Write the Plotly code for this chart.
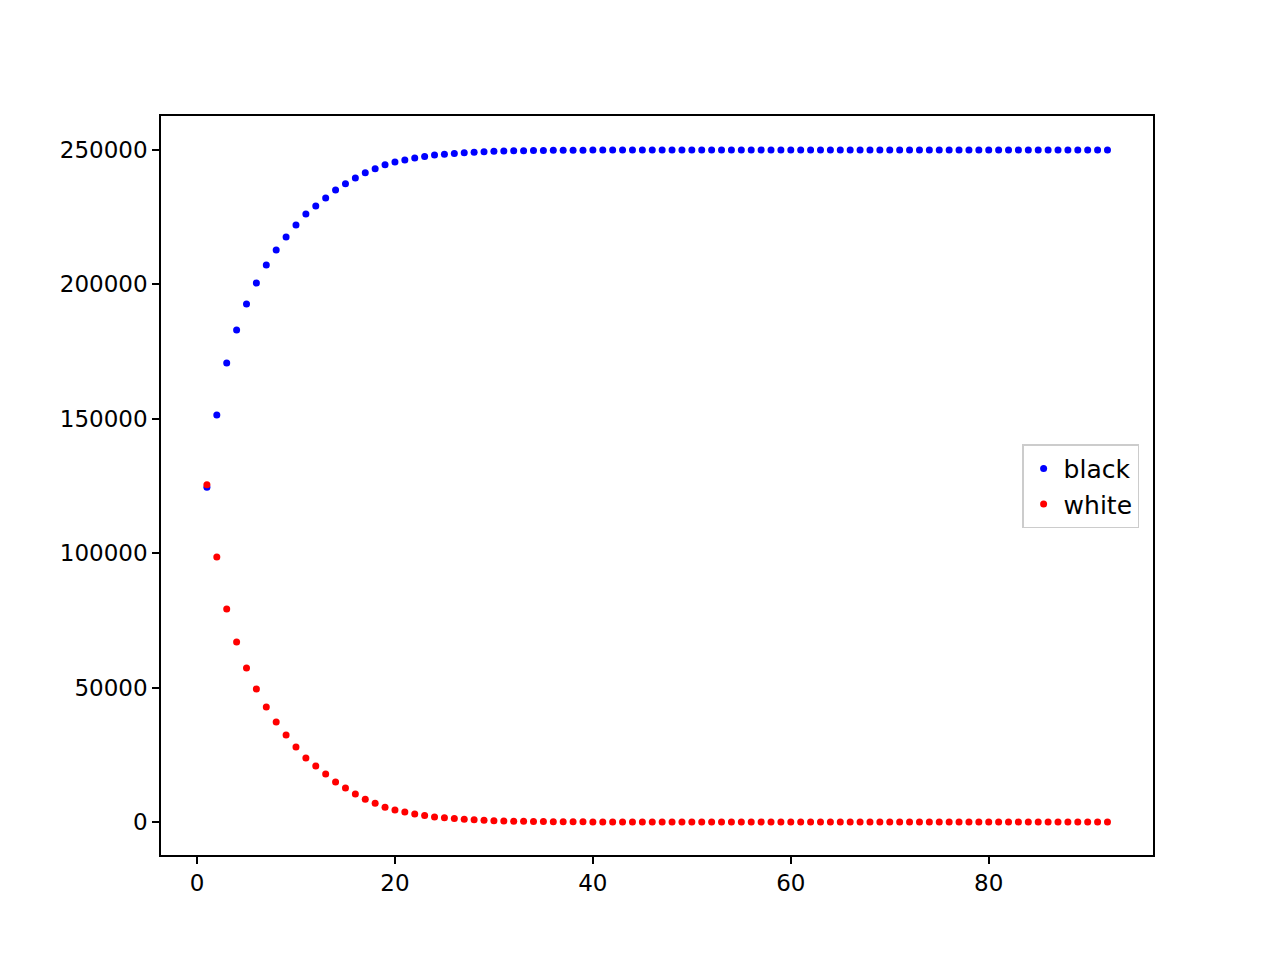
import plotly.graph_objects as go

steps = list(range(1, 93))

black = [124500, 151400, 170800, 183000, 192700, 200500, 207200, 212800, 217600, 222100,
         226200, 229200, 232100, 235100, 237400, 239600, 241500, 243000, 244500, 245500,
         246300, 247000, 247600, 248100, 248400, 248700, 249000, 249200, 249350, 249500,
         249600, 249680, 249750, 249800, 249850, 249880, 249900, 249930, 249950, 249960,
         249970, 249980, 249985, 249990, 249995] + [250000] * 47

white = [125500, 98600, 79200, 67000, 57300, 49500, 42800, 37200, 32400, 27900,
         23800, 20800, 17900, 14900, 12600, 10400, 8500, 7000, 5500, 4500,
         3700, 3000, 2400, 1900, 1600, 1300, 1000, 800, 650, 500,
         400, 320, 250, 200, 150, 120, 100, 70, 50, 40,
         30, 20, 15, 10, 5] + [0] * 47

fig = go.Figure()
fig.add_trace(go.Scatter(x=steps, y=black, mode="markers", name="black",
                         marker=dict(color="blue", size=7)))
fig.add_trace(go.Scatter(x=steps, y=white, mode="markers", name="white",
                         marker=dict(color="red", size=7)))

axis = dict(showgrid=False, zeroline=False, showline=True, linecolor="black", linewidth=1.5,
            mirror=True, ticks="outside", ticklen=7, tickwidth=1.5, tickcolor="black",
            tickfont=dict(size=23, color="black"))
fig.update_xaxes(range=[-3.64, 96.6], tickvals=[0, 20, 40, 60, 80], **axis)
fig.update_yaxes(range=[-12280, 262650], tickvals=[0, 50000, 100000, 150000, 200000, 250000],
                 tickformat="d", **axis)

fig.update_layout(
    width=1280, height=960, plot_bgcolor="white", paper_bgcolor="white",
    font=dict(family="DejaVu Sans"),
    margin=dict(l=153, r=135, t=108, b=113),
    legend=dict(x=0.986, y=0.499, xanchor="right", yanchor="middle",
                bordercolor="#cccccc", borderwidth=1.5, bgcolor="white",
                font=dict(size=25, color="black"), tracegroupgap=8),
)

fig.write_html("out.html")
